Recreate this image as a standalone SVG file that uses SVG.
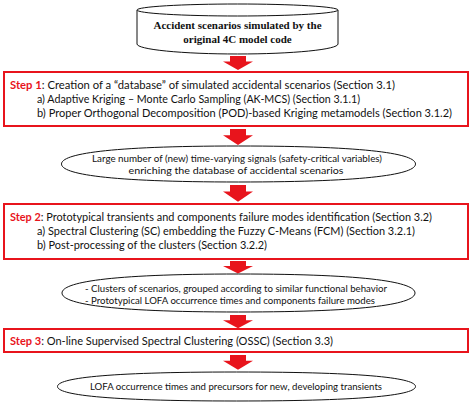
<svg xmlns="http://www.w3.org/2000/svg" width="474" height="403" viewBox="0 0 474 403">
<style>
.bg{fill:#ffffff}
.box{fill:#ffffff;stroke:#e8141c;stroke-width:2}
.ell{fill:#ffffff;stroke:#111111;stroke-width:1}
.arrow{fill:#e8141c}
.t{font-family:Lato,"Liberation Sans",sans-serif;fill:#111111}
.s{font-size:11.5px}
.e{font-size:9.8px}
.st{fill:#e8141c;font-weight:bold}
.cyl{font-family:"Liberation Serif",serif;font-weight:bold;font-size:11px;fill:#111111}
</style>
<defs>
<path id="arr" d="M-8,0 H8 V5.5 H15 L0,14 L-15,5.5 H-8 Z"/>
</defs>
<rect class="bg" x="0" y="0" width="474" height="403"/>

<g id="source">
<path class="ell" d="M137,10 V44 A100.5,10 0 0 0 338,44 V10"/>
<ellipse class="ell" cx="237.5" cy="10" rx="100.5" ry="6"/>
<text class="cyl" x="237.5" y="29" text-anchor="middle">Accident scenarios simulated by the</text>
<text class="cyl" x="237.5" y="43" text-anchor="middle">original 4C model code</text>
</g>

<g id="connectors">
<use href="#arr" class="arrow" transform="translate(238,56)"/>
<use href="#arr" class="arrow" transform="translate(238,129) scale(1,1.15)"/>
<use href="#arr" class="arrow" transform="translate(238,185) scale(1,1.2)"/>
<use href="#arr" class="arrow" transform="translate(238,261) scale(1,0.9)"/>
<use href="#arr" class="arrow" transform="translate(238,315) scale(1,0.95)"/>
<use href="#arr" class="arrow" transform="translate(238,355) scale(1,1.05)"/>
</g>

<g id="step1">
<rect class="box" x="4" y="72" width="464" height="54"/>
<text class="t s" x="10" y="89" textLength="385" lengthAdjust="spacingAndGlyphs"><tspan class="st">Step 1</tspan>: Creation of a “database” of simulated accidental scenarios (Section 3.1)</text>
<text class="t s" x="37" y="103" textLength="323" lengthAdjust="spacingAndGlyphs">a) Adaptive Kriging – Monte Carlo Sampling (AK-MCS) (Section 3.1.1)</text>
<text class="t s" x="37" y="117" textLength="415" lengthAdjust="spacingAndGlyphs">b) Proper Orthogonal Decomposition (POD)-based Kriging metamodels (Section 3.1.2)</text>
</g>

<g id="signals">
<path class="ell" d="M61.5,164 C61.5,154.1 105.75,146 238.5,146 C371.25,146 415.5,154.1 415.5,164 C415.5,173.9 371.25,182 238.5,182 C105.75,182 61.5,173.9 61.5,164 Z"/>
<text class="t e" x="237" y="161.5" text-anchor="middle" textLength="290" lengthAdjust="spacingAndGlyphs">Large number of (new) time-varying signals (safety-critical variables)</text>
<text class="t e" x="236" y="173.5" text-anchor="middle" textLength="215" lengthAdjust="spacingAndGlyphs">enriching the database of accidental scenarios</text>
</g>

<g id="step2">
<rect class="box" x="4" y="204" width="464" height="55"/>
<text class="t s" x="10" y="221" textLength="422" lengthAdjust="spacingAndGlyphs"><tspan class="st">Step 2</tspan>: Prototypical transients and components failure modes identification (Section 3.2)</text>
<text class="t s" x="37" y="235" textLength="378" lengthAdjust="spacingAndGlyphs">a) Spectral Clustering (SC) embedding the Fuzzy C-Means (FCM) (Section 3.2.1)</text>
<text class="t s" x="37" y="249" textLength="230" lengthAdjust="spacingAndGlyphs">b) Post-processing of the clusters (Section 3.2.2)</text>
</g>

<g id="clusters">
<path class="ell" d="M62,293 C62,282.55 106.1,274 238.5,274 C370.9,274 415,282.55 415,293 C415,303.45 370.9,312 238.5,312 C106.1,312 62,303.45 62,293 Z"/>
<text class="t e" x="85" y="291.5" textLength="302" lengthAdjust="spacingAndGlyphs">- Clusters of scenarios, grouped according to similar functional behavior</text>
<text class="t e" x="85" y="303.5" textLength="290" lengthAdjust="spacingAndGlyphs">- Prototypical LOFA occurrence times and components failure modes</text>
</g>

<g id="step3">
<rect class="box" x="4" y="329" width="464" height="23"/>
<text class="t s" x="10" y="345" textLength="323" lengthAdjust="spacingAndGlyphs"><tspan class="st">Step 3</tspan>: On-line Supervised Spectral Clustering (OSSC) (Section 3.3)</text>
</g>

<g id="result">
<path class="ell" d="M57.5,386.5 C57.5,378.5 102.25,372 236.5,372 C370.75,372 415.5,378.5 415.5,386.5 C415.5,394.5 370.75,401 236.5,401 C102.25,401 57.5,394.5 57.5,386.5 Z"/>
<text class="t e" x="236" y="390" text-anchor="middle" textLength="292" lengthAdjust="spacingAndGlyphs">LOFA occurrence times and precursors for new, developing transients</text>
</g>
</svg>
